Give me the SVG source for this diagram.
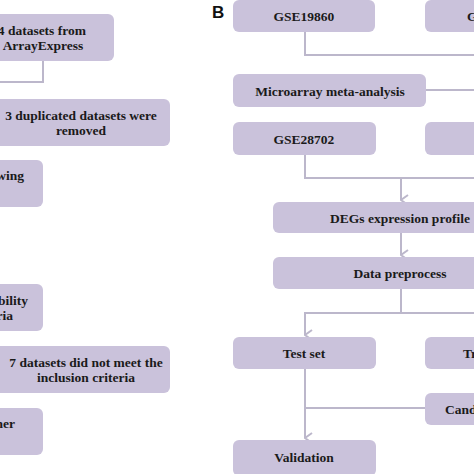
<svg xmlns="http://www.w3.org/2000/svg" width="474" height="474" viewBox="0 0 474 474">
<style>
.box{fill:#CAC2DB}
.t{font-family:"Liberation Serif","Times New Roman",serif;font-weight:bold;font-size:13.5px;fill:#1a1a1a}
.m{text-anchor:middle}
.e{text-anchor:end}
.c{fill:none;stroke:#BCB7CB;stroke-width:2}
</style>
<defs>
<marker id="ah" viewBox="0 0 12 10" refX="6" refY="9" markerWidth="12" markerHeight="10" markerUnits="userSpaceOnUse" orient="auto-start-reverse">
<polyline points="1,2 6,9 11,2" fill="none" stroke="#BCB7CB" stroke-width="2"/>
</marker>
</defs>
<rect width="474" height="474" fill="#fff"/>
<g id="connectors">
<polyline class="c" points="43,61 43,82 0,82"/>
<polyline class="c" points="305,32 305,55 474,55"/>
<line class="c" x1="426" y1="90" x2="474" y2="90"/>
<polyline class="c" points="305,155 305,178 474,178"/>
<line class="c" x1="401" y1="178" x2="401" y2="200" marker-end="url(#ah)"/>
<line class="c" x1="401" y1="233" x2="401" y2="255" marker-end="url(#ah)"/>
<line class="c" x1="401" y1="289" x2="401" y2="313"/>
<polyline class="c" points="474,313 305,313 305,335" marker-end="url(#ah)"/>
<line class="c" x1="305" y1="369" x2="305" y2="438" marker-end="url(#ah)"/>
<line class="c" x1="305" y1="408" x2="425" y2="408"/>
</g>
<g id="label-B"><text x="212" y="18" style="font-family:'Liberation Sans',Arial,sans-serif;font-weight:bold;font-size:17px;fill:#111">B</text></g>
<g id="n-arrayexpress"><rect class="box" x="-20" y="14" width="134" height="47" rx="6"/>
<text class="t e" x="86" y="35">4 datasets from</text><text class="t m" x="43" y="50">ArrayExpress</text></g>
<g id="n-duplicated"><rect class="box" x="-10" y="99" width="180" height="47" rx="6"/>
<text class="t m" x="81" y="120">3 duplicated datasets were</text><text class="t m" x="81" y="135">removed</text></g>
<g id="n-wing"><rect class="box" x="-20" y="160" width="63" height="47" rx="6"/>
<text class="t e" x="24" y="180">wing</text></g>
<g id="n-bility"><rect class="box" x="-20" y="284" width="63" height="47" rx="6"/>
<text class="t e" x="28" y="305">bility</text><text class="t e" x="13" y="320">ria</text></g>
<g id="n-inclusion"><rect class="box" x="-10" y="346" width="180" height="47" rx="6"/>
<text class="t m" x="86" y="367">7 datasets did not meet the</text><text class="t m" x="86" y="382">inclusion criteria</text></g>
<g id="n-ner"><rect class="box" x="-20" y="408" width="63" height="47" rx="6"/>
<text class="t e" x="15" y="428">ner</text></g>
<g id="n-gse19860"><rect class="box" x="233" y="0" width="142" height="32" rx="6"/>
<text class="t m" x="304" y="21">GSE19860</text></g>
<g id="n-gse-right"><rect class="box" x="425" y="0" width="142" height="32" rx="6"/>
<text class="t" x="467" y="21">G</text></g>
<g id="n-meta"><rect class="box" x="233" y="74" width="193" height="33" rx="6"/>
<text class="t m" x="330" y="96">Microarray meta-analysis</text></g>
<g id="n-gse28702"><rect class="box" x="233" y="122" width="143" height="33" rx="6"/>
<text class="t m" x="304" y="143.5">GSE28702</text></g>
<g id="n-right2"><rect class="box" x="425" y="122" width="142" height="33" rx="6"/></g>
<g id="n-degs"><rect class="box" x="273" y="202" width="254" height="31" rx="6"/>
<text class="t m" x="400" y="222.5">DEGs expression profile</text></g>
<g id="n-preprocess"><rect class="box" x="273" y="257" width="254" height="32" rx="6"/>
<text class="t m" x="400" y="278">Data preprocess</text></g>
<g id="n-test"><rect class="box" x="233" y="337" width="143" height="32" rx="6"/>
<text class="t m" x="304" y="358">Test set</text></g>
<g id="n-train"><rect class="box" x="425" y="337" width="142" height="32" rx="6"/>
<text class="t" x="463" y="358">Tr</text></g>
<g id="n-cand"><rect class="box" x="425" y="393" width="142" height="32" rx="6"/>
<text class="t" x="445" y="414">Cand</text></g>
<g id="n-validation"><rect class="box" x="233" y="440" width="143" height="36" rx="6"/>
<text class="t m" x="304" y="462">Validation</text></g>
</svg>
